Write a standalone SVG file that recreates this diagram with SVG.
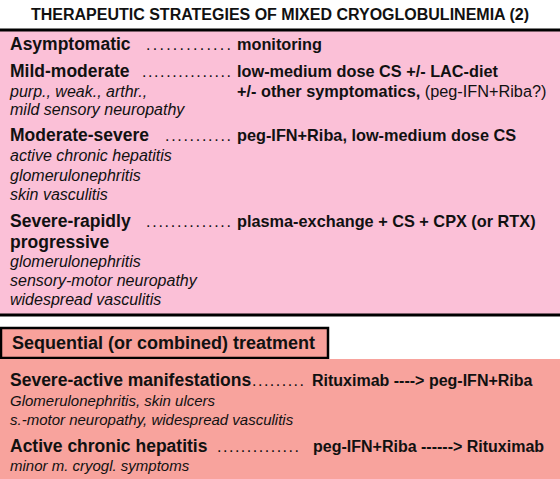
<svg xmlns="http://www.w3.org/2000/svg" width="560" height="479" viewBox="0 0 560 479">
<style>
text{font-family:"Liberation Sans",Arial,sans-serif;fill:#111}
.t{font-size:16px;font-weight:bold}
.h{font-size:17.5px;font-weight:bold}
.r{font-size:16.3px;font-weight:bold}
.r2{font-size:16px;font-weight:bold}
.n{font-weight:normal}
.i{font-size:16px;font-style:italic}
.i2{font-size:15px;font-style:italic}
.d{font-size:16px}
</style>
<rect width="560" height="479" fill="#ffffff"/>
<g id="title">
<text class="t" x="280" y="20" text-anchor="middle">THERAPEUTIC STRATEGIES OF MIXED CRYOGLOBULINEMIA (2)</text>
</g>
<g id="strategies">
<rect x="0" y="30" width="560" height="285" fill="#fbc0d7"/>
<line x1="0" y1="30" x2="560" y2="30" stroke="#000" stroke-width="3"/>
<line x1="0" y1="315" x2="560" y2="315" stroke="#000" stroke-width="3"/>
<text class="h" x="10" y="50">Asymptomatic</text>
<text class="d" x="146" y="50" textLength="85" lengthAdjust="spacing">.............</text>
<text class="r" x="237" y="50">monitoring</text>
<text class="h" x="10" y="77">Mild-moderate</text>
<text class="d" x="142" y="77" textLength="89" lengthAdjust="spacing">...............</text>
<text class="r" x="237" y="77">low-medium dose CS +/- LAC-diet</text>
<text class="i" x="10" y="97">purp., weak., arthr.,</text>
<text class="r" x="237" y="97">+/- other symptomatics, <tspan class="n">(peg-IFN+Riba?)</tspan></text>
<text class="i" x="10" y="115">mild sensory neuropathy</text>
<text class="h" x="10" y="141">Moderate-severe</text>
<text class="d" x="165" y="141" textLength="66" lengthAdjust="spacing">...........</text>
<text class="r" x="237" y="141">peg-IFN+Riba, low-medium dose CS</text>
<text class="i" x="10" y="161">active chronic hepatitis</text>
<text class="i" x="10" y="181">glomerulonephritis</text>
<text class="i" x="10" y="200">skin vasculitis</text>
<text class="h" x="10" y="227">Severe-rapidly</text>
<text class="d" x="146" y="227" textLength="85" lengthAdjust="spacing">..............</text>
<text class="r" x="237" y="227">plasma-exchange + CS + CPX (or RTX)</text>
<text class="h" x="10" y="248">progressive</text>
<text class="i" x="10" y="267">glomerulonephritis</text>
<text class="i" x="10" y="286">sensory-motor neuropathy</text>
<text class="i" x="10" y="305">widespread vasculitis</text>
</g>
<g id="sequential-header">
<rect x="1" y="328" width="327" height="30" fill="#f8a19b" stroke="#000" stroke-width="2.5"/>
<text class="h" x="12" y="349" style="font-size:18px">Sequential (or combined) treatment</text>
</g>
<g id="sequential">
<rect x="0" y="359" width="560" height="120" fill="#f8a39d"/>
<text class="h" x="10" y="386">Severe-active manifestations</text>
<text class="d" x="252" y="386" textLength="52" lengthAdjust="spacing">.........</text>
<text class="r2" x="312" y="386">Rituximab ----&gt; peg-IFN+Riba</text>
<text class="i2" x="10" y="406">Glomerulonephritis, skin ulcers</text>
<text class="i2" x="10" y="425">s.-motor neuropathy, widespread vasculitis</text>
<text class="h" x="10" y="452">Active chronic hepatitis</text>
<text class="d" x="217" y="452" textLength="82" lengthAdjust="spacing">..............</text>
<text class="r2" x="313" y="452">peg-IFN+Riba ------&gt; Rituximab</text>
<text class="i2" x="10" y="471">minor m. cryogl. symptoms</text>
</g>
</svg>
